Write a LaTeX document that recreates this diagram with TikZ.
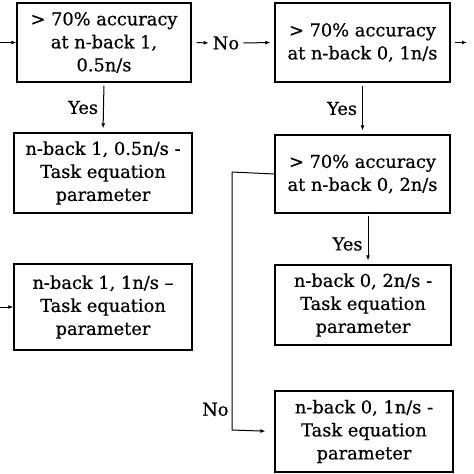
\documentclass[tikz,border=0pt]{standalone}
\usepackage{fontspec}
\setmainfont{DejaVu Serif}[FakeBold=0.6]
\usetikzlibrary{arrows.meta}
\begin{document}
\begin{tikzpicture}[x=1pt,y=-1pt,
  box/.style={draw,line width=1.2pt,align=center,inner sep=0pt,font=\fontsize{17.8}{23}\selectfont},
  lbl/.style={inner sep=1pt,font=\fontsize{17.8}{22}\selectfont},
  arr/.style={line width=1pt,-{Latex[length=5pt,width=4pt]}},
  ln/.style={line width=1pt}]
\useasboundingbox (0,0) rectangle (474,474);
\node[box,minimum width=174pt,minimum height=79pt] (A) at (104,42.5) {> 70\% accuracy\\at n-back 1,\\0.5n/s};
\node[box,minimum width=175pt,minimum height=79pt] (B) at (362.5,42.5) {> 70\% accuracy\\at n-back 0, 1n/s};
\node[box,minimum width=178pt,minimum height=80pt] (A2) at (103,173) {n-back 1, 0.5n/s -\\Task equation\\parameter};
\node[box,minimum width=175pt,minimum height=78pt] (C) at (362.5,174) {> 70\% accuracy\\at n-back 0, 2n/s};
\node[box,minimum width=178pt,minimum height=86pt] (F) at (103,307) {n-back 1, 1n/s --\\Task equation\\parameter};
\node[box,minimum width=176pt,minimum height=80pt] (D) at (363,305) {n-back 0, 2n/s -\\Task equation\\parameter};
\node[box,minimum width=178pt,minimum height=81pt] (E) at (364,431.5) {n-back 0, 1n/s -\\Task equation\\parameter};
\node[lbl] (no1) at (226,43) {No};
\coordinate (in1) at (0,42.5);
\coordinate (out1) at (467,42.5);
\coordinate (in2) at (0,307);
\coordinate (c1) at (232,172);
\coordinate (c2) at (232,430);
\draw[arr] (in1) -- (A.west);
\draw[arr,shorten <=5pt,shorten >=3pt] (A.east) -- (no1.west);
\draw[arr,shorten <=3pt,shorten >=4pt] (no1.east) -- (B.west);
\draw[arr,shorten <=4pt] (B.east) -- (out1);
\draw[arr,shorten <=3pt,shorten >=4pt] (A.south) -- node[lbl,left=4pt] {Yes} (A2.north);
\draw[arr,shorten <=3pt,shorten >=4pt] (B.south) -- node[lbl,left=4pt] {Yes} (C.north);
\draw[arr,shorten <=2pt,shorten >=4pt] ([xshift=5.5pt]C.south) -- node[lbl,left=4pt,pos=0.6] {Yes} ([xshift=5.5pt]C.south |- D.north);
\draw[ln] (C.west) -- (c1);
\draw[arr,shorten >=9pt] (c1) -- node[lbl,left=2pt,pos=0.92] {No} (c2) -- (E.west);
\draw[arr] (in2) -- (F.west);
\end{tikzpicture}
\end{document}
